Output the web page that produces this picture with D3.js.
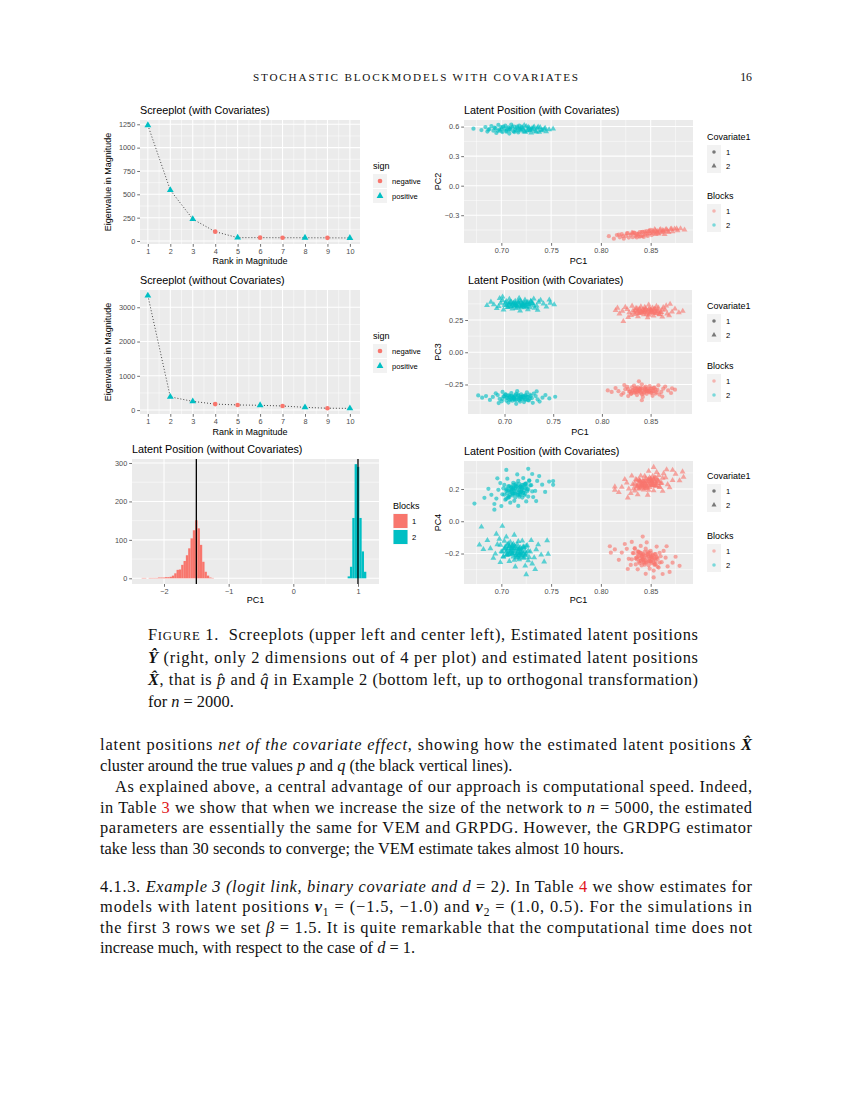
<!DOCTYPE html>
<html>
<head>
<meta charset="utf-8">
<script src="https://cdn.jsdelivr.net/npm/d3@7"></script>
<style>
  body { margin: 0; background: #fff; }
  svg text { white-space: pre; }
</style>
</head>
<body>
<svg id="page" width="850" height="1100"></svg>
<script>
// ---------- data ----------
const ranks = [1, 2, 3, 4, 5, 6, 7, 8, 9, 10];
const eigenWith = [1240, 545, 235, 100, 36, 36, 35, 35, 34, 33];
const signWith = ['positive', 'positive', 'positive', 'negative', 'positive', 'negative', 'negative', 'positive', 'negative', 'positive'];
const eigenWithout = [3340, 385, 255, 175, 150, 140, 120, 80, 55, 50];
const signWithout = ['positive', 'positive', 'positive', 'negative', 'negative', 'positive', 'negative', 'positive', 'negative', 'positive'];

// histogram of PC1 without covariates (bin counts)
const binWidth = 0.036;
const block1Start = -2.346;
const block1Counts = [1, 1, 0, 1, 1, 1, 1, 2, 2, 2, 3, 3, 4, 7, 13, 22, 23, 35, 45, 60, 78, 104, 125, 151, 130, 87, 43, 17, 7, 2, 1];
const block2Start = 0.84;
const block2Counts = [5, 30, 157, 297, 290, 157, 70, 17];
const trueValues = [-1.5, 1.0];

// tick values
const screeTicksX = [1, 2, 3, 4, 5, 6, 7, 8, 9, 10];
const screeMinorX = [1.5, 2.5, 3.5, 4.5, 5.5, 6.5, 7.5, 8.5, 9.5];
const screeWithTicksY = [0, 250, 500, 750, 1000, 1250];
const screeWithMinorY = [125, 375, 625, 875, 1125];
const screeWithoutTicksY = [0, 1000, 2000, 3000];
const screeWithoutMinorY = [500, 1500, 2500];
const histTicksX = [-2, -1, 0, 1];
const histMinorX = [-1.5, -0.5, 0.5];
const histTicksY = [0, 100, 200, 300];
const histMinorY = [50, 150, 250];
const pcTicksX = [0.70, 0.75, 0.80, 0.85];
const pcMinorX = [0.675, 0.725, 0.775, 0.825, 0.875];
const pc2TicksY = [-0.3, 0.0, 0.3, 0.6];
const pc2MinorY = [-0.45, -0.15, 0.15, 0.45];
const pc3TicksY = [-0.25, 0.00, 0.25];
const pc3MinorY = [-0.375, -0.125, 0.125, 0.375];
const pc4TicksY = [-0.2, 0.0, 0.2];
const pc4MinorY = [-0.3, -0.1, 0.1, 0.3];

// latent positions [PC1, PCk]
const pc2Block2Cov1 = [[0.672,0.579],[0.680,0.565],[0.684,0.595],[0.686,0.549],[0.688,0.575],[0.690,0.605],[0.692,0.559],[0.694,0.585],[0.695,0.535],[0.697,0.617],[0.698,0.569],[0.700,0.595],[0.701,0.545],[0.703,0.581],[0.704,0.609],[0.705,0.557],[0.707,0.591],[0.708,0.529],[0.709,0.575],[0.710,0.621],[0.712,0.553],[0.713,0.599],[0.714,0.567],[0.716,0.585],[0.717,0.541],[0.718,0.611],
  [0.687,0.568],[0.693,0.590],[0.696,0.560],[0.702,0.600],[0.705,0.548],[0.709,0.588],[0.713,0.545],[0.716,0.600],[0.718,0.578],[0.708,0.565]];
const pc2Block2Cov2 = [[0.720,0.561],[0.721,0.589],[0.722,0.575],[0.724,0.545],[0.725,0.603],[0.727,0.565],[0.728,0.585],[0.730,0.537],[0.731,0.573],[0.733,0.597],[0.734,0.555],[0.736,0.581],[0.738,0.545],[0.739,0.593],[0.741,0.565],[0.743,0.575],[0.745,0.549],[0.748,0.569],[0.752,0.577],[0.699,0.555],[0.711,0.595],[0.719,0.571],[0.726,0.557],[0.732,0.589],[0.715,0.557],[0.706,0.573],[0.723,0.613],
  [0.720,0.590],[0.723,0.550],[0.727,0.595],[0.730,0.578],[0.735,0.548],[0.737,0.596],[0.740,0.560],[0.744,0.585],[0.729,0.562],[0.700,0.575]];
const pc2Block1Cov1 = [[0.808,-0.513],[0.813,-0.538],[0.816,-0.501],[0.819,-0.524],[0.821,-0.492],[0.823,-0.538],[0.825,-0.510],[0.827,-0.482],[0.828,-0.527],[0.830,-0.499],[0.832,-0.523],[0.833,-0.476],[0.835,-0.510],[0.836,-0.525],[0.838,-0.489],[0.839,-0.518],[0.841,-0.472],[0.842,-0.507],[0.843,-0.520],[0.845,-0.484],[0.846,-0.461],[0.847,-0.510],[0.849,-0.484],[0.850,-0.449],[0.851,-0.502],
  [0.818,-0.497],[0.826,-0.485],[0.834,-0.478],[0.839,-0.472],[0.844,-0.466],[0.849,-0.460],[0.822,-0.512],[0.836,-0.493],[0.847,-0.488],[0.842,-0.470]];
const pc2Block1Cov2 = [[0.853,-0.472],[0.854,-0.445],[0.855,-0.494],[0.857,-0.464],[0.858,-0.489],[0.860,-0.445],[0.861,-0.476],[0.863,-0.458],[0.864,-0.493],[0.866,-0.445],[0.868,-0.473],[0.870,-0.441],[0.872,-0.467],[0.874,-0.439],[0.877,-0.456],[0.880,-0.435],[0.884,-0.449],[0.837,-0.498],[0.844,-0.499],[0.852,-0.483],[0.848,-0.463],[0.840,-0.515],[0.856,-0.471],[0.831,-0.482],[0.862,-0.469],
  [0.855,-0.456],[0.859,-0.452],[0.865,-0.446],[0.871,-0.440],[0.876,-0.437],[0.862,-0.455],[0.852,-0.462],[0.832,-0.482],[0.857,-0.480],[0.867,-0.462]];

const pc3Block2Cov2 = [[0.715,0.372],[0.720,0.378],[0.709,0.376],[0.718,0.358],[0.711,0.362],[0.725,0.368],[0.704,0.374],[0.717,0.390],[0.713,0.350],[0.723,0.386],[0.706,0.388],[0.722,0.352],[0.707,0.354],[0.729,0.380],[0.700,0.366],[0.716,0.400],[0.712,0.340],[0.727,0.396],[0.702,0.394],[0.726,0.346],[0.703,0.348],[0.733,0.360],[0.696,0.382],[0.721,0.406],[0.708,0.336],[0.735,0.390],[0.694,0.356],[0.731,0.342],[0.698,0.402],[0.718,0.380],[0.711,0.378],[0.719,0.366],[0.712,0.364],[0.740,0.376],[0.689,0.370],[0.724,0.332],[0.705,0.412],[0.737,0.404],[0.692,0.340],[0.730,0.414],[0.699,0.330],[0.743,0.352],[0.686,0.390],[0.715,0.420],[0.716,0.322],[0.747,0.382],[0.682,0.364],[0.734,0.328],[0.695,0.418],[0.751,0.370],[0.698,0.430],[0.746,0.406],
  [0.711,0.376],[0.719,0.374],[0.713,0.362],[0.718,0.364],[0.708,0.370],[0.723,0.374],[0.714,0.384],[0.716,0.356],[0.709,0.382],[0.721,0.384],[0.710,0.358],[0.721,0.360],[0.705,0.378],[0.726,0.371],[0.714,0.392],[0.717,0.350],[0.707,0.388],[0.724,0.388],[0.706,0.358],[0.723,0.356],[0.702,0.364],[0.728,0.380],[0.711,0.396],[0.720,0.346],[0.701,0.384],[0.730,0.360],[0.704,0.350],[0.727,0.394]];
const pc3Block2Cov1 = [[0.713,-0.350],[0.708,-0.344],[0.719,-0.346],[0.710,-0.364],[0.717,-0.360],[0.703,-0.354],[0.724,-0.348],[0.711,-0.332],[0.715,-0.372],[0.705,-0.336],[0.722,-0.334],[0.706,-0.370],[0.721,-0.368],[0.699,-0.342],[0.728,-0.356],[0.712,-0.322],[0.716,-0.382],[0.701,-0.326],[0.726,-0.328],[0.702,-0.376],[0.725,-0.374],[0.695,-0.362],[0.732,-0.340],[0.707,-0.316],[0.720,-0.386],[0.693,-0.332],[0.734,-0.366],[0.697,-0.380],[0.730,-0.320],[0.710,-0.342],[0.717,-0.344],[0.709,-0.356],[0.716,-0.358],[0.688,-0.346],[0.739,-0.352],[0.704,-0.390],[0.723,-0.310],[0.691,-0.318],[0.736,-0.382],[0.698,-0.308],[0.729,-0.392],[0.685,-0.370],[0.742,-0.332],[0.713,-0.302],[0.712,-0.400],[0.681,-0.340],[0.746,-0.358],[0.694,-0.394],[0.733,-0.304],[0.677,-0.352],[0.673,-0.335],[0.752,-0.345],
  [0.717,-0.346],[0.709,-0.348],[0.715,-0.360],[0.710,-0.358],[0.720,-0.352],[0.705,-0.348],[0.714,-0.338],[0.712,-0.366],[0.719,-0.340],[0.707,-0.338],[0.718,-0.364],[0.707,-0.362],[0.723,-0.344],[0.702,-0.351],[0.714,-0.330],[0.711,-0.372],[0.721,-0.334],[0.704,-0.334],[0.722,-0.365],[0.705,-0.366],[0.726,-0.358],[0.700,-0.342],[0.717,-0.326],[0.708,-0.376],[0.727,-0.338],[0.698,-0.362],[0.724,-0.372],[0.701,-0.328]];
const pc3Block1Cov2 = [[0.847,0.317],[0.852,0.311],[0.841,0.313],[0.850,0.331],[0.843,0.327],[0.857,0.321],[0.836,0.315],[0.849,0.299],[0.845,0.339],[0.855,0.303],[0.838,0.301],[0.854,0.337],[0.839,0.335],[0.861,0.309],[0.832,0.323],[0.848,0.289],[0.844,0.349],[0.859,0.293],[0.834,0.295],[0.858,0.343],[0.835,0.341],[0.865,0.329],[0.828,0.307],[0.853,0.283],[0.840,0.353],[0.867,0.299],[0.826,0.333],[0.863,0.347],[0.830,0.287],[0.850,0.309],[0.843,0.311],[0.851,0.323],[0.844,0.325],[0.872,0.313],[0.821,0.319],[0.856,0.357],[0.837,0.277],[0.869,0.285],[0.824,0.349],[0.862,0.275],[0.831,0.359],[0.875,0.337],[0.818,0.299],[0.847,0.269],[0.848,0.367],[0.879,0.307],[0.814,0.325],[0.866,0.361],[0.827,0.271],[0.883,0.319],[0.816,0.343],[0.870,0.373],[0.822,0.240],
  [0.843,0.313],[0.851,0.315],[0.845,0.327],[0.850,0.325],[0.840,0.319],[0.855,0.315],[0.846,0.305],[0.848,0.333],[0.841,0.307],[0.853,0.305],[0.842,0.331],[0.853,0.329],[0.837,0.311],[0.858,0.318],[0.846,0.297],[0.849,0.339],[0.839,0.301],[0.856,0.301],[0.838,0.332],[0.855,0.333],[0.834,0.325],[0.860,0.309],[0.843,0.293],[0.852,0.343],[0.833,0.305],[0.862,0.329],[0.836,0.339],[0.859,0.295]];
const pc3Block1Cov1 = [[0.842,-0.298],[0.837,-0.304],[0.848,-0.302],[0.839,-0.284],[0.846,-0.288],[0.832,-0.294],[0.853,-0.300],[0.840,-0.316],[0.844,-0.276],[0.834,-0.312],[0.851,-0.314],[0.835,-0.278],[0.850,-0.280],[0.828,-0.306],[0.857,-0.292],[0.841,-0.326],[0.845,-0.266],[0.830,-0.322],[0.855,-0.320],[0.831,-0.272],[0.854,-0.274],[0.824,-0.286],[0.861,-0.308],[0.836,-0.332],[0.849,-0.262],[0.822,-0.316],[0.863,-0.282],[0.826,-0.268],[0.859,-0.328],[0.839,-0.306],[0.846,-0.304],[0.838,-0.292],[0.845,-0.290],[0.817,-0.302],[0.868,-0.296],[0.833,-0.258],[0.852,-0.338],[0.820,-0.330],[0.865,-0.266],[0.827,-0.340],[0.858,-0.256],[0.814,-0.278],[0.871,-0.316],[0.842,-0.346],[0.841,-0.248],[0.810,-0.308],[0.875,-0.290],[0.823,-0.254],[0.862,-0.344],[0.806,-0.296],[0.872,-0.280],[0.841,-0.372],[0.838,-0.225],
  [0.846,-0.302],[0.838,-0.300],[0.844,-0.288],[0.839,-0.290],[0.849,-0.296],[0.834,-0.300],[0.843,-0.310],[0.841,-0.282],[0.848,-0.308],[0.836,-0.310],[0.847,-0.284],[0.836,-0.286],[0.852,-0.304],[0.831,-0.297],[0.843,-0.318],[0.840,-0.276],[0.850,-0.314],[0.833,-0.314],[0.851,-0.283],[0.834,-0.282],[0.855,-0.290],[0.829,-0.306],[0.846,-0.322],[0.837,-0.272],[0.856,-0.310],[0.827,-0.286],[0.853,-0.276],[0.830,-0.320]];

const pc4Block2Cov1 = [[0.716,0.194],[0.721,0.211],[0.710,0.196],[0.719,0.169],[0.712,0.170],[0.726,0.196],[0.705,0.187],[0.718,0.232],[0.714,0.148],[0.724,0.230],[0.707,0.217],[0.723,0.161],[0.708,0.150],[0.730,0.224],[0.701,0.167],[0.717,0.251],[0.713,0.127],[0.728,0.254],[0.703,0.225],[0.727,0.153],[0.704,0.134],[0.734,0.188],[0.697,0.195],[0.722,0.268],[0.709,0.115],[0.736,0.250],[0.695,0.141],[0.732,0.150],[0.699,0.237],[0.719,0.213],[0.712,0.202],[0.720,0.186],[0.713,0.175],[0.741,0.227],[0.690,0.164],[0.725,0.123],[0.706,0.264],[0.738,0.280],[0.693,0.107],[0.731,0.293],[0.700,0.094],[0.744,0.182],[0.687,0.201],[0.716,0.290],[0.717,0.095],[0.748,0.246],[0.683,0.145],[0.735,0.125],[0.696,0.266],[0.752,0.226],
  [0.718,0.190],[0.713,0.187],[0.718,0.210],[0.714,0.202],[0.721,0.203],[0.710,0.186],[0.717,0.177],[0.715,0.215],[0.720,0.184],[0.711,0.173],[0.719,0.217],[0.712,0.208],[0.723,0.193],[0.708,0.192],[0.716,0.166],[0.714,0.224],[0.722,0.176],[0.709,0.165],[0.721,0.225],[0.710,0.212],[0.725,0.215],[0.706,0.174],[0.719,0.163],[0.712,0.226],[0.726,0.186],[0.705,0.199],[0.724,0.232],[0.707,0.155],
  [0.712,0.198],[0.720,0.202],[0.714,0.172],[0.719,0.181],[0.709,0.183],[0.724,0.206],[0.715,0.217],[0.717,0.163],[0.710,0.208],[0.722,0.224],[0.711,0.161],[0.722,0.176],[0.706,0.196],[0.727,0.199],[0.715,0.233],[0.718,0.152],[0.708,0.218],[0.725,0.235],[0.707,0.146],[0.724,0.170],[0.703,0.165],[0.729,0.223],[0.712,0.238],[0.721,0.147],[0.702,0.204],[0.731,0.185],[0.705,0.139],[0.728,0.250],
  [0.673,0.110],[0.705,0.318],[0.727,0.325],[0.752,0.249],[0.693,0.072]];
const pc4Block2Cov2 = [[0.714,-0.186],[0.709,-0.193],[0.720,-0.200],[0.711,-0.155],[0.718,-0.170],[0.704,-0.168],[0.725,-0.201],[0.712,-0.220],[0.716,-0.144],[0.706,-0.206],[0.723,-0.227],[0.707,-0.139],[0.722,-0.158],[0.700,-0.188],[0.729,-0.189],[0.713,-0.241],[0.717,-0.125],[0.702,-0.222],[0.727,-0.243],[0.703,-0.123],[0.726,-0.150],[0.696,-0.144],[0.733,-0.225],[0.708,-0.248],[0.721,-0.121],[0.694,-0.202],[0.735,-0.175],[0.698,-0.110],[0.731,-0.263],[0.711,-0.199],[0.718,-0.202],[0.710,-0.170],[0.717,-0.173],[0.689,-0.169],[0.740,-0.208],[0.705,-0.097],[0.724,-0.276],[0.692,-0.228],[0.737,-0.145],[0.699,-0.255],[0.730,-0.118],[0.686,-0.118],[0.743,-0.251],[0.714,-0.282],[0.713,-0.085],[0.682,-0.174],[0.747,-0.203],[0.695,-0.079],[0.734,-0.298],[0.678,-0.146],
  [0.712,-0.178],[0.717,-0.185],[0.712,-0.198],[0.716,-0.197],[0.709,-0.185],[0.720,-0.190],[0.713,-0.167],[0.715,-0.209],[0.710,-0.168],[0.718,-0.175],[0.711,-0.203],[0.718,-0.208],[0.707,-0.171],[0.722,-0.200],[0.714,-0.158],[0.716,-0.220],[0.708,-0.156],[0.720,-0.171],[0.708,-0.207],[0.720,-0.216],[0.705,-0.189],[0.724,-0.186],[0.711,-0.149],[0.718,-0.226],[0.704,-0.158],[0.724,-0.212],[0.706,-0.208],[0.722,-0.164],
  [0.718,-0.198],[0.710,-0.186],[0.716,-0.168],[0.711,-0.167],[0.721,-0.189],[0.706,-0.182],[0.715,-0.211],[0.713,-0.153],[0.720,-0.212],[0.708,-0.204],[0.719,-0.163],[0.708,-0.156],[0.724,-0.208],[0.703,-0.172],[0.715,-0.227],[0.712,-0.140],[0.722,-0.226],[0.705,-0.209],[0.723,-0.161],[0.706,-0.146],[0.727,-0.183],[0.701,-0.189],[0.718,-0.238],[0.709,-0.129],[0.728,-0.224],[0.699,-0.147],[0.725,-0.153],[0.702,-0.218],
  [0.680,-0.035],[0.701,-0.030],[0.746,-0.120],[0.725,-0.330]];
const pc4Block1Cov2 = [[0.847,0.235],[0.852,0.231],[0.841,0.223],[0.850,0.259],[0.843,0.246],[0.857,0.251],[0.836,0.221],[0.849,0.210],[0.845,0.266],[0.855,0.222],[0.838,0.202],[0.854,0.272],[0.839,0.254],[0.861,0.237],[0.832,0.229],[0.848,0.194],[0.844,0.280],[0.859,0.211],[0.834,0.189],[0.858,0.285],[0.835,0.259],[0.865,0.271],[0.828,0.201],[0.853,0.190],[0.840,0.282],[0.867,0.228],[0.826,0.238],[0.863,0.296],[0.830,0.173],[0.850,0.226],[0.843,0.222],[0.851,0.248],[0.844,0.244],[0.872,0.254],[0.821,0.212],[0.856,0.304],[0.837,0.165],[0.869,0.209],[0.824,0.260],[0.862,0.187],[0.831,0.282],[0.875,0.293],[0.818,0.179],[0.847,0.163],[0.848,0.311],[0.879,0.252],[0.814,0.214],[0.866,0.320],[0.827,0.146],[0.883,0.274],
  [0.850,0.242],[0.844,0.235],[0.848,0.226],[0.845,0.225],[0.852,0.237],[0.841,0.231],[0.848,0.250],[0.846,0.218],[0.851,0.249],[0.842,0.243],[0.851,0.223],[0.843,0.217],[0.854,0.248],[0.840,0.223],[0.847,0.256],[0.845,0.210],[0.853,0.259],[0.840,0.245],[0.852,0.221],[0.841,0.211],[0.856,0.235],[0.838,0.233],[0.850,0.263],[0.844,0.205],[0.857,0.258],[0.836,0.212],[0.855,0.220],[0.839,0.249],
  [0.843,0.225],[0.851,0.236],[0.845,0.248],[0.850,0.250],[0.840,0.231],[0.855,0.240],[0.846,0.216],[0.848,0.260],[0.841,0.214],[0.853,0.223],[0.842,0.251],[0.853,0.259],[0.837,0.216],[0.858,0.247],[0.846,0.204],[0.849,0.270],[0.839,0.203],[0.856,0.220],[0.838,0.257],[0.855,0.267],[0.834,0.234],[0.860,0.236],[0.843,0.195],[0.852,0.279],[0.833,0.203],[0.862,0.268],[0.836,0.257],[0.859,0.214],
  [0.814,0.194],[0.853,0.335],[0.872,0.317],[0.882,0.307]];
const pc4Block1Cov1 = [[0.846,-0.227],[0.841,-0.210],[0.852,-0.225],[0.843,-0.252],[0.850,-0.251],[0.836,-0.225],[0.857,-0.234],[0.844,-0.189],[0.848,-0.273],[0.838,-0.191],[0.855,-0.204],[0.839,-0.260],[0.854,-0.271],[0.832,-0.197],[0.861,-0.254],[0.845,-0.170],[0.849,-0.294],[0.834,-0.167],[0.859,-0.196],[0.835,-0.268],[0.858,-0.287],[0.828,-0.233],[0.865,-0.226],[0.840,-0.153],[0.853,-0.306],[0.826,-0.171],[0.867,-0.280],[0.830,-0.271],[0.863,-0.184],[0.843,-0.208],[0.850,-0.219],[0.842,-0.235],[0.849,-0.246],[0.821,-0.194],[0.872,-0.257],[0.837,-0.298],[0.856,-0.157],[0.824,-0.141],[0.869,-0.314],[0.831,-0.128],[0.862,-0.327],[0.818,-0.239],[0.875,-0.220],[0.846,-0.131],[0.845,-0.326],[0.814,-0.175],[0.879,-0.276],[0.827,-0.296],[0.866,-0.155],[0.810,-0.195],
  [0.843,-0.230],[0.849,-0.234],[0.845,-0.212],[0.848,-0.219],[0.841,-0.218],[0.851,-0.235],[0.845,-0.244],[0.847,-0.206],[0.842,-0.237],[0.850,-0.248],[0.842,-0.204],[0.850,-0.213],[0.839,-0.228],[0.854,-0.229],[0.846,-0.254],[0.848,-0.196],[0.840,-0.245],[0.853,-0.255],[0.840,-0.196],[0.852,-0.209],[0.837,-0.206],[0.855,-0.246],[0.843,-0.258],[0.850,-0.194],[0.836,-0.235],[0.856,-0.221],[0.838,-0.189],[0.854,-0.265],
  [0.850,-0.223],[0.842,-0.219],[0.848,-0.249],[0.843,-0.240],[0.853,-0.238],[0.838,-0.215],[0.847,-0.204],[0.845,-0.258],[0.852,-0.213],[0.840,-0.197],[0.851,-0.260],[0.840,-0.245],[0.856,-0.225],[0.835,-0.229],[0.847,-0.188],[0.844,-0.269],[0.854,-0.203],[0.837,-0.186],[0.855,-0.267],[0.838,-0.251],[0.859,-0.256],[0.833,-0.198],[0.850,-0.183],[0.841,-0.274],[0.860,-0.217],[0.831,-0.236],[0.857,-0.282],[0.834,-0.171],
  [0.842,-0.095],[0.809,-0.155],[0.853,-0.348]];

// ---------- setup ----------
const svg = d3.select('#page');
const sans = "'Liberation Sans', Arial, sans-serif";
const serif = "'Liberation Serif', 'Times New Roman', serif";
const red = '#F8766D', teal = '#00BFC4';
const blockColor = { 1: red, 2: teal };

function makePanel(p) {
  const x = d3.scaleLinear().domain(p.xDomain).range([p.left, p.right]);
  const y = d3.scaleLinear().domain(p.yDomain).range([p.bottom, p.top]);
  const g = svg.append('g');
  g.append('rect').attr('x', p.left).attr('y', p.top)
    .attr('width', p.right - p.left).attr('height', p.bottom - p.top).attr('fill', '#EBEBEB');

  const grid = (vals, vertical, w) => g.append('g').selectAll('line').data(vals).join('line')
    .attr('x1', d => vertical ? x(d) : p.left).attr('x2', d => vertical ? x(d) : p.right)
    .attr('y1', d => vertical ? p.top : y(d)).attr('y2', d => vertical ? p.bottom : y(d))
    .attr('stroke', '#fff').attr('stroke-width', w);
  grid(p.xMinor, true, 0.5); grid(p.yMinor, false, 0.5);
  grid(p.xTicks, true, 1.05); grid(p.yTicks, false, 1.05);

  const ax = g.append('g').attr('transform', `translate(0,${p.bottom})`)
    .call(d3.axisBottom(x).tickValues(p.xTicks).tickFormat(p.xFormat).tickSize(2.8).tickPadding(1.6));
  const ay = g.append('g').attr('transform', `translate(${p.left},0)`)
    .call(d3.axisLeft(y).tickValues(p.yTicks).tickFormat(p.yFormat).tickSize(2.8).tickPadding(2));
  [ax, ay].forEach(a => {
    a.attr('font-size', 7.3).attr('font-family', sans);
    a.select('.domain').remove();
    a.selectAll('line').attr('stroke', '#333').attr('stroke-width', 0.7);
    a.selectAll('text').attr('fill', '#4D4D4D');
  });

  g.append('text').attr('x', p.left).attr('y', p.top - 6).text(p.title)
    .attr('font-family', sans).attr('font-size', 10.8).attr('fill', '#000');
  g.append('text').attr('x', (p.left + p.right) / 2).attr('y', p.xTitleY).text(p.xTitle)
    .attr('text-anchor', 'middle').attr('font-family', sans).attr('font-size', 9);
  if (p.yTitle) {
    g.append('text').attr('transform', `translate(${p.yTitleX},${(p.top + p.bottom) / 2}) rotate(-90)`)
      .attr('dy', '0.35em').attr('text-anchor', 'middle').text(p.yTitle)
      .attr('font-family', sans).attr('font-size', 9);
  }
  return { x, y, g };
}

function legend(x, cy, title, items, keySize) {
  const ks = keySize || 14;
  svg.append('text').attr('x', x).attr('y', cy + 3.2).text(title)
    .attr('font-family', sans).attr('font-size', 9);
  items.forEach(it => {
    const ky = cy + it.dy;
    svg.append('rect').attr('x', x).attr('y', ky - ks / 2).attr('width', ks).attr('height', ks).attr('fill', '#F2F2F2');
    it.draw(x + ks / 2, ky);
    svg.append('text').attr('x', x + 19).attr('y', ky + 2.7).text(it.label)
      .attr('font-family', sans).attr('font-size', 7.6);
  });
}

const sym = (type, size) => d3.symbol(type, size)();
const drawSym = (cx, cy, type, size, fill, op) => svg.append('path')
  .attr('transform', `translate(${cx},${cy})`).attr('d', sym(type, size))
  .attr('fill', fill).attr('fill-opacity', op == null ? 1 : op);

// ---------- screeplots ----------
function screeplot(p, values, signs) {
  const pan = makePanel(p);
  const pts = ranks.map((r, i) => ({ r, v: values[i], s: signs[i] }));
  pan.g.append('path').datum(pts)
    .attr('d', d3.line().x(d => pan.x(d.r)).y(d => pan.y(d.v)))
    .attr('fill', 'none').attr('stroke', '#333').attr('stroke-width', 0.9).attr('stroke-dasharray', '1,2');
  pan.g.append('g').selectAll('path').data(pts).join('path')
    .attr('transform', d => `translate(${pan.x(d.r)},${pan.y(d.v)})`)
    .attr('d', d => d.s === 'negative' ? sym(d3.symbolCircle, 17) : sym(d3.symbolTriangle, 20))
    .attr('fill', d => d.s === 'negative' ? red : teal);
  return pan;
}

screeplot({
  left: 140, right: 360, top: 120, bottom: 244,
  xDomain: [0.65, 10.45], yDomain: [-32, 1296],
  xTicks: screeTicksX, xMinor: screeMinorX, yTicks: screeWithTicksY, yMinor: screeWithMinorY,
  xFormat: d3.format('d'), yFormat: d3.format('d'),
  title: 'Screeplot (with Covariates)', xTitle: 'Rank in Magnitude', xTitleY: 264,
  yTitle: 'Eigenvalue in Magnitude', yTitleX: 108
}, eigenWith, signWith);

screeplot({
  left: 140, right: 360, top: 290, bottom: 414,
  xDomain: [0.65, 10.45], yDomain: [-114, 3504],
  xTicks: screeTicksX, xMinor: screeMinorX, yTicks: screeWithoutTicksY, yMinor: screeWithoutMinorY,
  xFormat: d3.format('d'), yFormat: d3.format('d'),
  title: 'Screeplot (without Covariates)', xTitle: 'Rank in Magnitude', xTitleY: 435,
  yTitle: 'Eigenvalue in Magnitude', yTitleX: 108
}, eigenWithout, signWithout);

const signItems = [
  { label: 'negative', dy: 15, draw: (cx, cy) => drawSym(cx, cy, d3.symbolCircle, 17, red) },
  { label: 'positive', dy: 30, draw: (cx, cy) => drawSym(cx, cy, d3.symbolTriangle, 20, teal) }
];
legend(373, 166, 'sign', signItems);
legend(373, 336, 'sign', signItems);

// ---------- histogram ----------
const hist = makePanel({
  left: 132, right: 379, top: 459, bottom: 584,
  xDomain: [-2.495, 1.325], yDomain: [-14.8, 310.4],
  xTicks: histTicksX, xMinor: histMinorX, yTicks: histTicksY, yMinor: histMinorY,
  xFormat: d3.format('d'), yFormat: d3.format('d'),
  title: 'Latent Position (without Covariates)', xTitle: 'PC1', xTitleY: 603
});
[[block1Start, block1Counts, 1], [block2Start, block2Counts, 2]].forEach(([start, counts, b]) => {
  hist.g.append('g').selectAll('rect').data(counts).join('rect')
    .attr('x', (c, i) => hist.x(start + i * binWidth))
    .attr('width', (c, i) => hist.x(start + (i + 1) * binWidth) - hist.x(start + i * binWidth) + 0.05)
    .attr('y', c => hist.y(c)).attr('height', c => hist.y(0) - hist.y(c))
    .attr('fill', blockColor[b]);
});
hist.g.append('g').selectAll('line').data(trueValues).join('line')
  .attr('x1', d => hist.x(d)).attr('x2', d => hist.x(d)).attr('y1', 459).attr('y2', 584)
  .attr('stroke', '#000').attr('stroke-width', 1.3);
legend(393, 506, 'Blocks', [
  { label: '1', dy: 15, draw: (cx, cy) => svg.append('rect').attr('x', cx - 7).attr('y', cy - 7).attr('width', 14).attr('height', 14).attr('fill', red) },
  { label: '2', dy: 31, draw: (cx, cy) => svg.append('rect').attr('x', cx - 7).attr('y', cy - 7).attr('width', 14).attr('height', 14).attr('fill', teal) }
], 15);

// ---------- latent position scatterplots ----------
function scatter(p, clouds) {
  const pan = makePanel(p);
  clouds.forEach(c => {
    pan.g.append('g').selectAll('path').data(c.pts).join('path')
      .attr('transform', d => `translate(${pan.x(d[0])},${pan.y(d[1])})`)
      .attr('d', c.cov === 1 ? sym(d3.symbolCircle, 14) : sym(d3.symbolTriangle, 15))
      .attr('fill', blockColor[c.block]).attr('fill-opacity', 0.62);
  });
  return pan;
}

const pcDomainX = [0.6625, 0.8925];
scatter({
  left: 464, right: 693, top: 120, bottom: 243,
  xDomain: pcDomainX, yDomain: [-0.582, 0.667],
  xTicks: pcTicksX, xMinor: pcMinorX, yTicks: pc2TicksY, yMinor: pc2MinorY,
  xFormat: d3.format('.2f'), yFormat: d3.format('.1f'),
  title: 'Latent Position (with Covariates)', xTitle: 'PC1', xTitleY: 264, yTitle: 'PC2', yTitleX: 438
}, [
  { pts: pc2Block1Cov1, block: 1, cov: 1 }, { pts: pc2Block1Cov2, block: 1, cov: 2 },
  { pts: pc2Block2Cov1, block: 2, cov: 1 }, { pts: pc2Block2Cov2, block: 2, cov: 2 }
]);

scatter({
  left: 468, right: 692, top: 290, bottom: 414,
  xDomain: pcDomainX, yDomain: [-0.4787, 0.4826],
  xTicks: pcTicksX, xMinor: pcMinorX, yTicks: pc3TicksY, yMinor: pc3MinorY,
  xFormat: d3.format('.2f'), yFormat: d3.format('.2f'),
  title: 'Latent Position (with Covariates)', xTitle: 'PC1', xTitleY: 435, yTitle: 'PC3', yTitleX: 438
}, [
  { pts: pc3Block1Cov1, block: 1, cov: 1 }, { pts: pc3Block1Cov2, block: 1, cov: 2 },
  { pts: pc3Block2Cov1, block: 2, cov: 1 }, { pts: pc3Block2Cov2, block: 2, cov: 2 }
]);

scatter({
  left: 464, right: 693, top: 461, bottom: 584,
  xDomain: pcDomainX, yDomain: [-0.389, 0.3736],
  xTicks: pcTicksX, xMinor: pcMinorX, yTicks: pc4TicksY, yMinor: pc4MinorY,
  xFormat: d3.format('.2f'), yFormat: d3.format('.1f'),
  title: 'Latent Position (with Covariates)', xTitle: 'PC1', xTitleY: 603, yTitle: 'PC4', yTitleX: 438
}, [
  { pts: pc4Block1Cov1, block: 1, cov: 1 }, { pts: pc4Block1Cov2, block: 1, cov: 2 },
  { pts: pc4Block2Cov1, block: 2, cov: 1 }, { pts: pc4Block2Cov2, block: 2, cov: 2 }
]);

const covItems = [
  { label: '1', dy: 15, draw: (cx, cy) => drawSym(cx, cy, d3.symbolCircle, 10, '#000', 0.5) },
  { label: '2', dy: 29, draw: (cx, cy) => drawSym(cx, cy, d3.symbolTriangle, 11, '#000', 0.5) }
];
const blockItems = [
  { label: '1', dy: 15, draw: (cx, cy) => drawSym(cx, cy, d3.symbolCircle, 10, red, 0.5) },
  { label: '2', dy: 29, draw: (cx, cy) => drawSym(cx, cy, d3.symbolCircle, 10, teal, 0.5) }
];
[[137, 196], [306, 366], [476, 536]].forEach(([c1, c2]) => {
  legend(707, c1, 'Covariate1', covItems);
  legend(707, c2, 'Blocks', blockItems);
});

// ---------- page text ----------
function textLine(x, y, parts, width, size) {
  const t = svg.append('text').attr('x', x).attr('y', y)
    .attr('font-family', serif).attr('font-size', size || 16.4).attr('fill', '#111');
  if (width) t.attr('textLength', width).attr('lengthAdjust', 'spacing');
  parts.forEach(p => {
    const [txt, st] = typeof p === 'string' ? [p, ''] : p;
    const s = t.append('tspan').text(txt);
    if (st.includes('i')) s.attr('font-style', 'italic');
    if (st.includes('b')) s.attr('font-weight', 'bold');
    if (st.includes('r')) s.attr('fill', '#e0161b');
    if (st.includes('c')) s.attr('font-size', (size || 16.4) * 0.78);
    if (st.includes('s')) s.attr('font-size', 11.5).attr('dy', 3.5);
    if (st.includes('u')) s.attr('dy', -3.5);
  });
  return t;
}

textLine(253, 81, ['STOCHASTIC BLOCKMODELS WITH COVARIATES'], 325, 11.2);
svg.append('text').attr('x', 752).attr('y', 81).attr('text-anchor', 'end')
  .attr('font-family', serif).attr('font-size', 11.8).attr('fill', '#111').text('16');

// caption
textLine(148, 640, ['F', ['IGURE', 'c'], ' 1.  Screeplots (upper left and center left), Estimated latent positions'], 550);
textLine(148, 663, [['Ŷ', 'bi'], ' (right, only 2 dimensions out of 4 per plot) and estimated latent positions'], 550);
textLine(148, 685, [['X\u0302', 'bi'], ', that is ', ['p\u0302', 'i'], ' and ', ['q\u0302', 'i'], ' in Example 2 (bottom left, up to orthogonal transformation)'], 550);
textLine(148, 707, ['for ', ['n', 'i'], ' = 2000.']);

// body
textLine(100, 750, ['latent positions ', ['net of the covariate effect', 'i'], ', showing how the estimated latent positions ', ['X\u0302', 'bi']], 652);
textLine(100, 771, ['cluster around the true values ', ['p', 'i'], ' and ', ['q', 'i'], ' (the black vertical lines).']);
textLine(115, 792, ['As explained above, a central advantage of our approach is computational speed. Indeed,'], 637);
textLine(100, 813, ['in Table ', ['3', 'r'], ' we show that when we increase the size of the network to ', ['n', 'i'], ' = 5000, the estimated'], 652);
textLine(100, 833, ['parameters are essentially the same for VEM and GRPDG. However, the GRDPG estimator'], 652);
textLine(100, 854, ['take less than 30 seconds to converge; the VEM estimate takes almost 10 hours.']);

textLine(100, 892, ['4.1.3. ', ['Example 3 (logit link, binary covariate and ', 'i'], ['d', 'i'], ' = 2', [')', 'i'], '. In Table ', ['4', 'r'], ' we show estimates for'], 652);
textLine(100, 912, ['models with latent positions ', ['ν', 'bi'], ['1', 's'], [' = (−1.5, −1.0) and ', 'u'], ['ν', 'bi'], ['2', 's'], [' = (1.0, 0.5). For the simulations in', 'u']], 652);
textLine(100, 933, ['the first 3 rows we set ', ['β', 'i'], ' = 1.5. It is quite remarkable that the computational time does not'], 652);
textLine(100, 953, ['increase much, with respect to the case of ', ['d', 'i'], ' = 1.']);
</script>
</body>
</html>
